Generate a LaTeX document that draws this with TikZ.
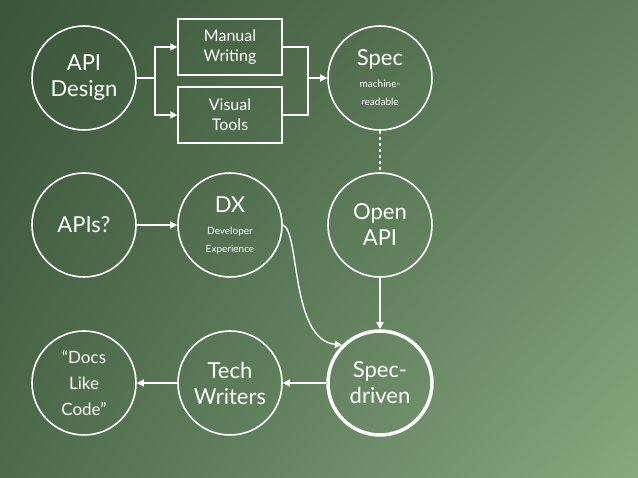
\documentclass[tikz,border=0pt]{standalone}
\usepackage{fontspec}
\setmainfont{Lato}
\usetikzlibrary{arrows.meta,shadings}
\definecolor{ul}{HTML}{3A553A}
\definecolor{ur}{HTML}{5F7F5A}
\definecolor{ll}{HTML}{4C6B4A}
\definecolor{lr}{HTML}{86A97F}
\begin{document}
\begin{tikzpicture}[x=1pt,y=-1pt,
  circ/.style={circle,draw=white,line width=1.6pt,minimum size=104pt,inner sep=0pt,text=white,align=center,font=\fontsize{22}{26}\selectfont},
  box/.style={draw=white,line width=1.4pt,minimum width=104pt,minimum height=56pt,text=white,align=center,font=\fontsize{16}{20}\selectfont},
  con/.style={draw=white,line width=1.4pt,-{Triangle[length=7pt,width=7pt]}}]
\shade[upper left=ul,upper right=ur,lower left=ll,lower right=lr] (0,0) rectangle (638,478);
\useasboundingbox (0,0) rectangle (638,478);
\node[circ] (apid) at (84,78) {API\\Design};
\node[circ] (spec) at (380,78) {Spec\\[-4pt]{\fontsize{10}{12}\selectfont machine-}\\[-8pt]{\fontsize{10}{12}\selectfont readable}};
\node[circ] (apis) at (84,225) {APIs?};
\node[circ] (dx) at (230,225) {DX\\[-4pt]{\fontsize{10}{12}\selectfont Developer}\\[-8pt]{\fontsize{10}{12}\selectfont Experience}};
\node[circ] (open) at (380,225) {Open\\API};
\node[circ] (docs) at (84,383) {\fontsize{17}{21}\selectfont “Docs\\\fontsize{17}{21}\selectfont Like\\\fontsize{17}{21}\selectfont Code”};
\node[circ] (tech) at (230,383) {Tech\\Writers};
\node[circ,line width=3.5pt] (sd) at (380,383) {Spec-\\driven};
\node[box] (man) at (230,47) {Manual\\Writing};
\node[box] (vis) at (230,115) {Visual\\Tools};
\coordinate (j1) at (155,78);
\coordinate (j2) at (308,78);
\draw[white,line width=1.4pt] (apid.east) -- (j1);
\draw[con] (j1) |- (man.west);
\draw[con] (j1) |- (vis.west);
\draw[white,line width=1.4pt] (man.east) -| (j2);
\draw[white,line width=1.4pt] (vis.east) -| (j2);
\draw[con] (j2) -- (spec.west);
\draw[white,line width=1.4pt,dash pattern=on 3pt off 3pt] (spec.south) -- (open.north);
\draw[con] (apis.east) -- (dx.west);
\draw[con] (dx.east) .. controls (300,230) and (290,340) .. (sd.north west);
\draw[con] (open.south) -- (sd.north);
\draw[con] (sd.west) -- (tech.east);
\draw[con] (tech.west) -- (docs.east);
\end{tikzpicture}
\end{document}
